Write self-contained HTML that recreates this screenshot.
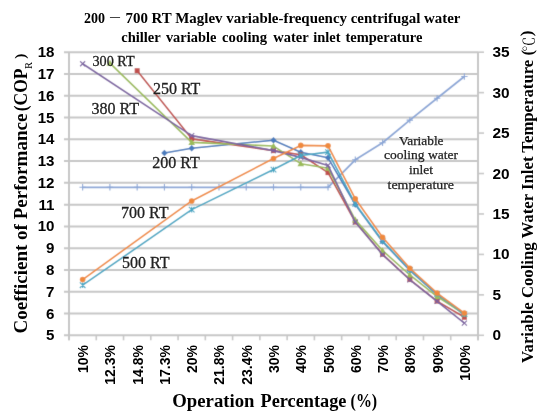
<!DOCTYPE html><html><head><meta charset="utf-8"><style>html,body{margin:0;padding:0;background:#fff;}svg{display:block;}#w{width:550px;height:418px;overflow:hidden;}.t{font-family:"Liberation Serif","Noto Serif CJK SC",serif;}.s{font-family:"Liberation Sans",sans-serif;font-weight:bold;}</style></head><body>
<div id="w">
<svg width="550" height="418" viewBox="0 0 550 418">
<defs><filter id="f" x="0" y="0" width="550" height="418" filterUnits="userSpaceOnUse"><feConvolveMatrix order="3" kernelMatrix="0.0114 0.0841 0.0114 0.0841 0.6180 0.0841 0.0114 0.0841 0.0114" edgeMode="duplicate" preserveAlpha="true"/></filter></defs><g filter="url(#f)">
<rect width="550" height="418" fill="#fff"/>
<line x1="64.0" y1="335.30" x2="478.0" y2="335.30" stroke="#C6C6C6" stroke-width="2"/>
<line x1="64.0" y1="313.52" x2="478.0" y2="313.52" stroke="#C6C6C6" stroke-width="2"/>
<line x1="64.0" y1="291.75" x2="478.0" y2="291.75" stroke="#C6C6C6" stroke-width="2"/>
<line x1="64.0" y1="269.97" x2="478.0" y2="269.97" stroke="#C6C6C6" stroke-width="2"/>
<line x1="64.0" y1="248.19" x2="478.0" y2="248.19" stroke="#C6C6C6" stroke-width="2"/>
<line x1="64.0" y1="226.42" x2="478.0" y2="226.42" stroke="#C6C6C6" stroke-width="2"/>
<line x1="64.0" y1="204.64" x2="478.0" y2="204.64" stroke="#C6C6C6" stroke-width="2"/>
<line x1="64.0" y1="182.86" x2="478.0" y2="182.86" stroke="#C6C6C6" stroke-width="2"/>
<line x1="64.0" y1="161.08" x2="478.0" y2="161.08" stroke="#C6C6C6" stroke-width="2"/>
<line x1="64.0" y1="139.31" x2="478.0" y2="139.31" stroke="#C6C6C6" stroke-width="2"/>
<line x1="64.0" y1="117.53" x2="478.0" y2="117.53" stroke="#C6C6C6" stroke-width="2"/>
<line x1="64.0" y1="95.75" x2="478.0" y2="95.75" stroke="#C6C6C6" stroke-width="2"/>
<line x1="64.0" y1="73.98" x2="478.0" y2="73.98" stroke="#C6C6C6" stroke-width="2"/>
<line x1="64.0" y1="52.20" x2="478.0" y2="52.20" stroke="#C6C6C6" stroke-width="2"/>
<line x1="69.0" y1="52.20" x2="69.0" y2="340.30" stroke="#C6C6C6" stroke-width="2"/>
<line x1="478.0" y1="52.20" x2="478.0" y2="340.30" stroke="#C6C6C6" stroke-width="2"/>
<line x1="69.00" y1="335.30" x2="69.00" y2="340.30" stroke="#C6C6C6" stroke-width="1.6"/>
<line x1="96.27" y1="335.30" x2="96.27" y2="340.30" stroke="#C6C6C6" stroke-width="1.6"/>
<line x1="123.53" y1="335.30" x2="123.53" y2="340.30" stroke="#C6C6C6" stroke-width="1.6"/>
<line x1="150.80" y1="335.30" x2="150.80" y2="340.30" stroke="#C6C6C6" stroke-width="1.6"/>
<line x1="178.07" y1="335.30" x2="178.07" y2="340.30" stroke="#C6C6C6" stroke-width="1.6"/>
<line x1="205.33" y1="335.30" x2="205.33" y2="340.30" stroke="#C6C6C6" stroke-width="1.6"/>
<line x1="232.60" y1="335.30" x2="232.60" y2="340.30" stroke="#C6C6C6" stroke-width="1.6"/>
<line x1="259.87" y1="335.30" x2="259.87" y2="340.30" stroke="#C6C6C6" stroke-width="1.6"/>
<line x1="287.13" y1="335.30" x2="287.13" y2="340.30" stroke="#C6C6C6" stroke-width="1.6"/>
<line x1="314.40" y1="335.30" x2="314.40" y2="340.30" stroke="#C6C6C6" stroke-width="1.6"/>
<line x1="341.67" y1="335.30" x2="341.67" y2="340.30" stroke="#C6C6C6" stroke-width="1.6"/>
<line x1="368.93" y1="335.30" x2="368.93" y2="340.30" stroke="#C6C6C6" stroke-width="1.6"/>
<line x1="396.20" y1="335.30" x2="396.20" y2="340.30" stroke="#C6C6C6" stroke-width="1.6"/>
<line x1="423.47" y1="335.30" x2="423.47" y2="340.30" stroke="#C6C6C6" stroke-width="1.6"/>
<line x1="450.73" y1="335.30" x2="450.73" y2="340.30" stroke="#C6C6C6" stroke-width="1.6"/>
<line x1="478.00" y1="335.30" x2="478.00" y2="340.30" stroke="#C6C6C6" stroke-width="1.6"/>
<line x1="478.0" y1="335.30" x2="484.0" y2="335.30" stroke="#C6C6C6" stroke-width="1.6"/>
<line x1="478.0" y1="294.86" x2="484.0" y2="294.86" stroke="#C6C6C6" stroke-width="1.6"/>
<line x1="478.0" y1="254.41" x2="484.0" y2="254.41" stroke="#C6C6C6" stroke-width="1.6"/>
<line x1="478.0" y1="213.97" x2="484.0" y2="213.97" stroke="#C6C6C6" stroke-width="1.6"/>
<line x1="478.0" y1="173.53" x2="484.0" y2="173.53" stroke="#C6C6C6" stroke-width="1.6"/>
<line x1="478.0" y1="133.09" x2="484.0" y2="133.09" stroke="#C6C6C6" stroke-width="1.6"/>
<line x1="478.0" y1="92.64" x2="484.0" y2="92.64" stroke="#C6C6C6" stroke-width="1.6"/>
<line x1="478.0" y1="52.20" x2="484.0" y2="52.20" stroke="#C6C6C6" stroke-width="1.6"/>
<polyline points="82.63,187.28 109.90,187.28 137.17,187.28 164.43,187.28 191.70,187.28 218.97,187.28 246.23,187.28 273.50,187.28 300.77,187.28 328.03,187.28 355.30,159.78 382.57,142.79 409.83,120.14 437.10,98.30 464.37,76.47" fill="none" stroke="#8BA6D6" stroke-width="1.8" stroke-linejoin="round"/>
<path d="M82.63,184.08L82.63,190.48M79.43,187.28L85.83,187.28" stroke="#8BA6D6" stroke-width="1.1" fill="none"/>
<path d="M109.90,184.08L109.90,190.48M106.70,187.28L113.10,187.28" stroke="#8BA6D6" stroke-width="1.1" fill="none"/>
<path d="M137.17,184.08L137.17,190.48M133.97,187.28L140.37,187.28" stroke="#8BA6D6" stroke-width="1.1" fill="none"/>
<path d="M164.43,184.08L164.43,190.48M161.23,187.28L167.63,187.28" stroke="#8BA6D6" stroke-width="1.1" fill="none"/>
<path d="M191.70,184.08L191.70,190.48M188.50,187.28L194.90,187.28" stroke="#8BA6D6" stroke-width="1.1" fill="none"/>
<path d="M218.97,184.08L218.97,190.48M215.77,187.28L222.17,187.28" stroke="#8BA6D6" stroke-width="1.1" fill="none"/>
<path d="M246.23,184.08L246.23,190.48M243.03,187.28L249.43,187.28" stroke="#8BA6D6" stroke-width="1.1" fill="none"/>
<path d="M273.50,184.08L273.50,190.48M270.30,187.28L276.70,187.28" stroke="#8BA6D6" stroke-width="1.1" fill="none"/>
<path d="M300.77,184.08L300.77,190.48M297.57,187.28L303.97,187.28" stroke="#8BA6D6" stroke-width="1.1" fill="none"/>
<path d="M328.03,184.08L328.03,190.48M324.83,187.28L331.23,187.28" stroke="#8BA6D6" stroke-width="1.1" fill="none"/>
<path d="M355.30,156.58L355.30,162.98M352.10,159.78L358.50,159.78" stroke="#8BA6D6" stroke-width="1.1" fill="none"/>
<path d="M382.57,139.59L382.57,145.99M379.37,142.79L385.77,142.79" stroke="#8BA6D6" stroke-width="1.1" fill="none"/>
<path d="M409.83,116.94L409.83,123.34M406.63,120.14L413.03,120.14" stroke="#8BA6D6" stroke-width="1.1" fill="none"/>
<path d="M437.10,95.10L437.10,101.50M433.90,98.30L440.30,98.30" stroke="#8BA6D6" stroke-width="1.1" fill="none"/>
<path d="M464.37,73.27L464.37,79.67M461.17,76.47L467.57,76.47" stroke="#8BA6D6" stroke-width="1.1" fill="none"/>
<polyline points="164.43,153.03 191.70,148.24 273.50,140.18 300.77,152.16 328.03,157.82 355.30,204.64 382.57,241.66 409.83,270.40 437.10,294.58 464.37,314.61" fill="none" stroke="#4A7CBD" stroke-width="1.6" stroke-linejoin="round"/>
<path d="M164.43,149.83L167.63,153.03L164.43,156.23L161.23,153.03Z" fill="#4A7CBD"/>
<path d="M191.70,145.04L194.90,148.24L191.70,151.44L188.50,148.24Z" fill="#4A7CBD"/>
<path d="M273.50,136.98L276.70,140.18L273.50,143.38L270.30,140.18Z" fill="#4A7CBD"/>
<path d="M300.77,148.96L303.97,152.16L300.77,155.36L297.57,152.16Z" fill="#4A7CBD"/>
<path d="M328.03,154.62L331.23,157.82L328.03,161.02L324.83,157.82Z" fill="#4A7CBD"/>
<path d="M355.30,201.44L358.50,204.64L355.30,207.84L352.10,204.64Z" fill="#4A7CBD"/>
<path d="M382.57,238.46L385.77,241.66L382.57,244.86L379.37,241.66Z" fill="#4A7CBD"/>
<path d="M409.83,267.20L413.03,270.40L409.83,273.60L406.63,270.40Z" fill="#4A7CBD"/>
<path d="M437.10,291.38L440.30,294.58L437.10,297.78L433.90,294.58Z" fill="#4A7CBD"/>
<path d="M464.37,311.41L467.57,314.61L464.37,317.81L461.17,314.61Z" fill="#4A7CBD"/>
<polyline points="137.17,70.71 191.70,138.87 273.50,150.63 300.77,154.77 328.03,172.63 355.30,222.06 382.57,254.29 409.83,279.55 437.10,301.11 464.37,317.23" fill="none" stroke="#C0504D" stroke-width="1.6" stroke-linejoin="round"/>
<rect x="134.67" y="68.21" width="5.00" height="5.00" fill="#C0504D"/>
<rect x="189.20" y="136.37" width="5.00" height="5.00" fill="#C0504D"/>
<rect x="271.00" y="148.13" width="5.00" height="5.00" fill="#C0504D"/>
<rect x="298.27" y="152.27" width="5.00" height="5.00" fill="#C0504D"/>
<rect x="325.53" y="170.13" width="5.00" height="5.00" fill="#C0504D"/>
<rect x="352.80" y="219.56" width="5.00" height="5.00" fill="#C0504D"/>
<rect x="380.07" y="251.79" width="5.00" height="5.00" fill="#C0504D"/>
<rect x="407.33" y="277.05" width="5.00" height="5.00" fill="#C0504D"/>
<rect x="434.60" y="298.61" width="5.00" height="5.00" fill="#C0504D"/>
<rect x="461.87" y="314.73" width="5.00" height="5.00" fill="#C0504D"/>
<polyline points="109.90,63.09 191.70,142.36 273.50,146.06 300.77,163.70 328.03,168.27 355.30,219.88 382.57,250.59 409.83,274.98 437.10,296.54 464.37,313.96" fill="none" stroke="#9BBB59" stroke-width="1.6" stroke-linejoin="round"/>
<path d="M109.90,59.69L113.20,65.69L106.60,65.69Z" fill="#9BBB59"/>
<path d="M191.70,138.96L195.00,144.96L188.40,144.96Z" fill="#9BBB59"/>
<path d="M273.50,142.66L276.80,148.66L270.20,148.66Z" fill="#9BBB59"/>
<path d="M300.77,160.30L304.07,166.30L297.47,166.30Z" fill="#9BBB59"/>
<path d="M328.03,164.87L331.33,170.87L324.73,170.87Z" fill="#9BBB59"/>
<path d="M355.30,216.48L358.60,222.48L352.00,222.48Z" fill="#9BBB59"/>
<path d="M382.57,247.19L385.87,253.19L379.27,253.19Z" fill="#9BBB59"/>
<path d="M409.83,271.58L413.13,277.58L406.53,277.58Z" fill="#9BBB59"/>
<path d="M437.10,293.14L440.40,299.14L433.80,299.14Z" fill="#9BBB59"/>
<path d="M464.37,310.56L467.67,316.56L461.07,316.56Z" fill="#9BBB59"/>
<polyline points="82.63,63.74 191.70,135.61 273.50,150.63 300.77,157.38 328.03,165.44 355.30,222.06 382.57,254.73 409.83,279.77 437.10,301.33 464.37,323.10" fill="none" stroke="#7B62A0" stroke-width="1.6" stroke-linejoin="round"/>
<path d="M80.13,61.24L85.13,66.24M85.13,61.24L80.13,66.24" stroke="#7B62A0" stroke-width="1.1" fill="none"/>
<path d="M189.20,133.11L194.20,138.11M194.20,133.11L189.20,138.11" stroke="#7B62A0" stroke-width="1.1" fill="none"/>
<path d="M271.00,148.13L276.00,153.13M276.00,148.13L271.00,153.13" stroke="#7B62A0" stroke-width="1.1" fill="none"/>
<path d="M298.27,154.88L303.27,159.88M303.27,154.88L298.27,159.88" stroke="#7B62A0" stroke-width="1.1" fill="none"/>
<path d="M325.53,162.94L330.53,167.94M330.53,162.94L325.53,167.94" stroke="#7B62A0" stroke-width="1.1" fill="none"/>
<path d="M352.80,219.56L357.80,224.56M357.80,219.56L352.80,224.56" stroke="#7B62A0" stroke-width="1.1" fill="none"/>
<path d="M380.07,252.23L385.07,257.23M385.07,252.23L380.07,257.23" stroke="#7B62A0" stroke-width="1.1" fill="none"/>
<path d="M407.33,277.27L412.33,282.27M412.33,277.27L407.33,282.27" stroke="#7B62A0" stroke-width="1.1" fill="none"/>
<path d="M434.60,298.83L439.60,303.83M439.60,298.83L434.60,303.83" stroke="#7B62A0" stroke-width="1.1" fill="none"/>
<path d="M461.87,320.60L466.87,325.60M466.87,320.60L461.87,325.60" stroke="#7B62A0" stroke-width="1.1" fill="none"/>
<polyline points="82.63,285.21 191.70,209.65 273.50,169.58 300.77,155.42 328.03,152.16 355.30,203.77 382.57,241.01 409.83,269.97 437.10,293.92 464.37,314.18" fill="none" stroke="#45A6C3" stroke-width="1.6" stroke-linejoin="round"/>
<path d="M79.83,282.41L85.43,288.01M85.43,282.41L79.83,288.01M82.63,282.41L82.63,288.01" stroke="#45A6C3" stroke-width="1.1" fill="none"/>
<path d="M188.90,206.85L194.50,212.45M194.50,206.85L188.90,212.45M191.70,206.85L191.70,212.45" stroke="#45A6C3" stroke-width="1.1" fill="none"/>
<path d="M270.70,166.78L276.30,172.38M276.30,166.78L270.70,172.38M273.50,166.78L273.50,172.38" stroke="#45A6C3" stroke-width="1.1" fill="none"/>
<path d="M297.97,152.62L303.57,158.22M303.57,152.62L297.97,158.22M300.77,152.62L300.77,158.22" stroke="#45A6C3" stroke-width="1.1" fill="none"/>
<path d="M325.23,149.36L330.83,154.96M330.83,149.36L325.23,154.96M328.03,149.36L328.03,154.96" stroke="#45A6C3" stroke-width="1.1" fill="none"/>
<path d="M352.50,200.97L358.10,206.57M358.10,200.97L352.50,206.57M355.30,200.97L355.30,206.57" stroke="#45A6C3" stroke-width="1.1" fill="none"/>
<path d="M379.77,238.21L385.37,243.81M385.37,238.21L379.77,243.81M382.57,238.21L382.57,243.81" stroke="#45A6C3" stroke-width="1.1" fill="none"/>
<path d="M407.03,267.17L412.63,272.77M412.63,267.17L407.03,272.77M409.83,267.17L409.83,272.77" stroke="#45A6C3" stroke-width="1.1" fill="none"/>
<path d="M434.30,291.12L439.90,296.72M439.90,291.12L434.30,296.72M437.10,291.12L437.10,296.72" stroke="#45A6C3" stroke-width="1.1" fill="none"/>
<path d="M461.57,311.38L467.17,316.98M467.17,311.38L461.57,316.98M464.37,311.38L464.37,316.98" stroke="#45A6C3" stroke-width="1.1" fill="none"/>
<polyline points="82.63,279.55 191.70,200.94 273.50,158.47 300.77,145.41 328.03,145.84 355.30,198.76 382.57,237.30 409.83,268.23 437.10,293.05 464.37,313.09" fill="none" stroke="#EF8A3E" stroke-width="1.6" stroke-linejoin="round"/>
<circle cx="82.63" cy="279.55" r="2.8" fill="#EF8A3E"/>
<circle cx="191.70" cy="200.94" r="2.8" fill="#EF8A3E"/>
<circle cx="273.50" cy="158.47" r="2.8" fill="#EF8A3E"/>
<circle cx="300.77" cy="145.41" r="2.8" fill="#EF8A3E"/>
<circle cx="328.03" cy="145.84" r="2.8" fill="#EF8A3E"/>
<circle cx="355.30" cy="198.76" r="2.8" fill="#EF8A3E"/>
<circle cx="382.57" cy="237.30" r="2.8" fill="#EF8A3E"/>
<circle cx="409.83" cy="268.23" r="2.8" fill="#EF8A3E"/>
<circle cx="437.10" cy="293.05" r="2.8" fill="#EF8A3E"/>
<circle cx="464.37" cy="313.09" r="2.8" fill="#EF8A3E"/>
</g>
<text class="s" x="0" y="0" font-size="14" text-anchor="end" transform="translate(54.5,340.30) scale(1.08,1)" fill="#000">5</text>
<text class="s" x="0" y="0" font-size="14" text-anchor="end" transform="translate(54.5,318.52) scale(1.08,1)" fill="#000">6</text>
<text class="s" x="0" y="0" font-size="14" text-anchor="end" transform="translate(54.5,296.75) scale(1.08,1)" fill="#000">7</text>
<text class="s" x="0" y="0" font-size="14" text-anchor="end" transform="translate(54.5,274.97) scale(1.08,1)" fill="#000">8</text>
<text class="s" x="0" y="0" font-size="14" text-anchor="end" transform="translate(54.5,253.19) scale(1.08,1)" fill="#000">9</text>
<text class="s" x="0" y="0" font-size="14" text-anchor="end" transform="translate(54.5,231.42) scale(1.08,1)" fill="#000">10</text>
<text class="s" x="0" y="0" font-size="14" text-anchor="end" transform="translate(54.5,209.64) scale(1.08,1)" fill="#000">11</text>
<text class="s" x="0" y="0" font-size="14" text-anchor="end" transform="translate(54.5,187.86) scale(1.08,1)" fill="#000">12</text>
<text class="s" x="0" y="0" font-size="14" text-anchor="end" transform="translate(54.5,166.08) scale(1.08,1)" fill="#000">13</text>
<text class="s" x="0" y="0" font-size="14" text-anchor="end" transform="translate(54.5,144.31) scale(1.08,1)" fill="#000">14</text>
<text class="s" x="0" y="0" font-size="14" text-anchor="end" transform="translate(54.5,122.53) scale(1.08,1)" fill="#000">15</text>
<text class="s" x="0" y="0" font-size="14" text-anchor="end" transform="translate(54.5,100.75) scale(1.08,1)" fill="#000">16</text>
<text class="s" x="0" y="0" font-size="14" text-anchor="end" transform="translate(54.5,78.98) scale(1.08,1)" fill="#000">17</text>
<text class="s" x="0" y="0" font-size="14" text-anchor="end" transform="translate(54.5,57.20) scale(1.08,1)" fill="#000">18</text>
<text class="s" x="0" y="0" font-size="14" text-anchor="start" transform="translate(492.5,340.30) scale(1.1,1)" fill="#000">0</text>
<text class="s" x="0" y="0" font-size="14" text-anchor="start" transform="translate(492.5,299.86) scale(1.1,1)" fill="#000">5</text>
<text class="s" x="0" y="0" font-size="14" text-anchor="start" transform="translate(492.5,259.41) scale(1.1,1)" fill="#000">10</text>
<text class="s" x="0" y="0" font-size="14" text-anchor="start" transform="translate(492.5,218.97) scale(1.1,1)" fill="#000">15</text>
<text class="s" x="0" y="0" font-size="14" text-anchor="start" transform="translate(492.5,178.53) scale(1.1,1)" fill="#000">20</text>
<text class="s" x="0" y="0" font-size="14" text-anchor="start" transform="translate(492.5,138.09) scale(1.1,1)" fill="#000">25</text>
<text class="s" x="0" y="0" font-size="14" text-anchor="start" transform="translate(492.5,97.64) scale(1.1,1)" fill="#000">30</text>
<text class="s" x="0" y="0" font-size="14" text-anchor="start" transform="translate(492.5,57.20) scale(1.1,1)" fill="#000">35</text>
<text class="s" x="0" y="0" font-size="14" text-anchor="end" transform="translate(88.13,345) rotate(-90)" fill="#000">10%</text>
<text class="s" x="0" y="0" font-size="14" text-anchor="end" transform="translate(115.40,345) rotate(-90)" fill="#000">12.3%</text>
<text class="s" x="0" y="0" font-size="14" text-anchor="end" transform="translate(142.67,345) rotate(-90)" fill="#000">14.8%</text>
<text class="s" x="0" y="0" font-size="14" text-anchor="end" transform="translate(169.93,345) rotate(-90)" fill="#000">17.3%</text>
<text class="s" x="0" y="0" font-size="14" text-anchor="end" transform="translate(197.20,345) rotate(-90)" fill="#000">20%</text>
<text class="s" x="0" y="0" font-size="14" text-anchor="end" transform="translate(224.47,345) rotate(-90)" fill="#000">21.8%</text>
<text class="s" x="0" y="0" font-size="14" text-anchor="end" transform="translate(251.73,345) rotate(-90)" fill="#000">23.4%</text>
<text class="s" x="0" y="0" font-size="14" text-anchor="end" transform="translate(279.00,345) rotate(-90)" fill="#000">30%</text>
<text class="s" x="0" y="0" font-size="14" text-anchor="end" transform="translate(306.27,345) rotate(-90)" fill="#000">40%</text>
<text class="s" x="0" y="0" font-size="14" text-anchor="end" transform="translate(333.53,345) rotate(-90)" fill="#000">50%</text>
<text class="s" x="0" y="0" font-size="14" text-anchor="end" transform="translate(360.80,345) rotate(-90)" fill="#000">60%</text>
<text class="s" x="0" y="0" font-size="14" text-anchor="end" transform="translate(388.07,345) rotate(-90)" fill="#000">70%</text>
<text class="s" x="0" y="0" font-size="14" text-anchor="end" transform="translate(415.33,345) rotate(-90)" fill="#000">80%</text>
<text class="s" x="0" y="0" font-size="14" text-anchor="end" transform="translate(442.60,345) rotate(-90)" fill="#000">90%</text>
<text class="s" x="0" y="0" font-size="14" text-anchor="end" transform="translate(469.87,345) rotate(-90)" fill="#000">100%</text>
<text class="t" x="92.5" y="66.4" font-size="14.2" fill="#222" stroke="#222" stroke-width="0.3">300 RT</text>
<text class="t" x="152.9" y="93.7" font-size="16" fill="#222" stroke="#222" stroke-width="0.3">250 RT</text>
<text class="t" x="91.6" y="113.5" font-size="16" fill="#222" stroke="#222" stroke-width="0.3">380 RT</text>
<text class="t" x="152.3" y="167.5" font-size="16" fill="#222" stroke="#222" stroke-width="0.3">200 RT</text>
<text class="t" x="121.1" y="218" font-size="16" fill="#222" stroke="#222" stroke-width="0.3">700 RT</text>
<text class="t" x="122" y="268" font-size="16" fill="#222" stroke="#222" stroke-width="0.3">500 RT</text>
<text class="t" x="421.3" y="144.7" font-size="13.3" text-anchor="middle" textLength="44.5" lengthAdjust="spacingAndGlyphs" fill="#222" stroke="#222" stroke-width="0.25">Variable</text>
<text class="t" x="421" y="159.3" font-size="13.3" text-anchor="middle" textLength="74" lengthAdjust="spacingAndGlyphs" fill="#222" stroke="#222" stroke-width="0.25">cooling water</text>
<text class="t" x="421" y="174" font-size="13.3" text-anchor="middle" textLength="24" lengthAdjust="spacingAndGlyphs" fill="#222" stroke="#222" stroke-width="0.25">inlet</text>
<text class="t" x="420.8" y="188.7" font-size="13.3" text-anchor="middle" textLength="66.5" lengthAdjust="spacingAndGlyphs" fill="#222" stroke="#222" stroke-width="0.25">temperature</text>
<text class="t" x="84" y="22.6" font-size="14" font-weight="bold" fill="#000">200</text>
<text class="t" x="110" y="20.3" font-size="10" font-weight="bold" fill="#000">—</text>
<text class="t" x="125.5" y="22.6" font-size="14" font-weight="bold" textLength="335" lengthAdjust="spacingAndGlyphs" fill="#000">700 RT Maglev variable-frequency centrifugal water</text>
<text class="t" x="121.2" y="42.3" font-size="14" font-weight="bold" textLength="39.6" lengthAdjust="spacingAndGlyphs" fill="#000">chiller</text>
<text class="t" x="165.9" y="42.3" font-size="14" font-weight="bold" textLength="50.4" lengthAdjust="spacingAndGlyphs" fill="#000">variable</text>
<text class="t" x="222.1" y="42.3" font-size="14" font-weight="bold" textLength="44.9" lengthAdjust="spacingAndGlyphs" fill="#000">cooling</text>
<text class="t" x="273.2" y="42.3" font-size="14" font-weight="bold" textLength="35.4" lengthAdjust="spacingAndGlyphs" fill="#000">water</text>
<text class="t" x="313.2" y="42.3" font-size="14" font-weight="bold" textLength="27.3" lengthAdjust="spacingAndGlyphs" fill="#000">inlet</text>
<text class="t" x="345.5" y="42.3" font-size="14" font-weight="bold" textLength="76.8" lengthAdjust="spacingAndGlyphs" fill="#000">temperature</text>
<text class="t" x="0" y="0" font-size="18" font-weight="bold" textLength="219.9" lengthAdjust="spacingAndGlyphs" transform="translate(26.5,333.5) rotate(-90)" fill="#000">Coefficient of Performance</text>
<text class="t" x="0" y="0" font-size="18" font-weight="bold" textLength="42.9" lengthAdjust="spacingAndGlyphs" transform="translate(26.5,111.3) rotate(-90)" fill="#000">(COP</text>
<text class="t" x="0" y="0" font-size="10.5" transform="translate(31.8,69) rotate(-90)" fill="#000">R</text>
<text class="t" x="0" y="0" font-size="15.5" font-weight="bold" transform="translate(25,58.8) rotate(-90)" fill="#000">)</text>
<text class="t" x="0" y="0" font-size="17" font-weight="bold" textLength="313" lengthAdjust="spacingAndGlyphs" transform="translate(533,363) rotate(-90)" fill="#000">Variable Cooling Water Inlet Temperature (</text>
<text x="0" y="0" font-family="Noto Serif CJK SC,serif" font-size="15" transform="translate(533.5,51.7) rotate(-90)" fill="#000">℃</text>
<text class="t" x="0" y="0" font-size="17" font-weight="bold" transform="translate(532,36.2) rotate(-90)" fill="#000">)</text>
<text class="t" x="172.3" y="406.6" font-size="18" font-weight="bold" textLength="82.2" lengthAdjust="spacingAndGlyphs" fill="#000">Operation</text>
<text class="t" x="260.5" y="406.6" font-size="18" font-weight="bold" textLength="85.9" lengthAdjust="spacingAndGlyphs" fill="#000">Percentage</text>
<text class="t" x="350.6" y="406.6" font-size="18" font-weight="bold" textLength="26.6" lengthAdjust="spacingAndGlyphs" fill="#000">(%)</text>
</svg></div></body></html>
